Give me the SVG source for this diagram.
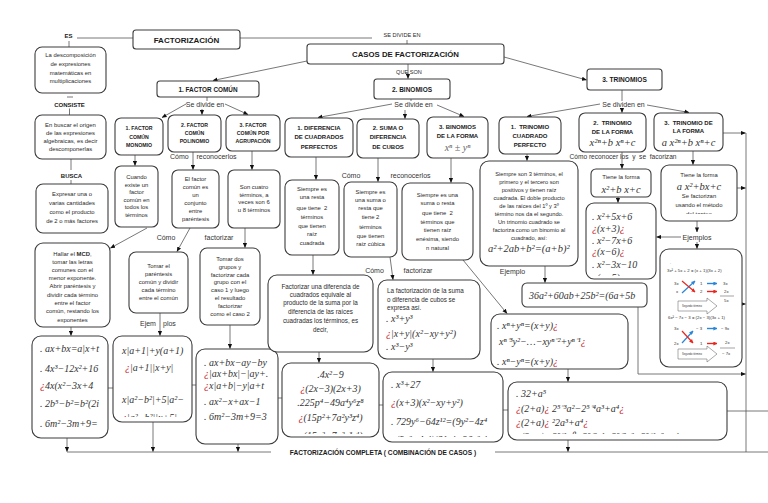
<svg xmlns="http://www.w3.org/2000/svg" width="768" height="503" viewBox="0 0 768 503">
<defs>
<marker id="ah" markerWidth="5" markerHeight="5" refX="4.6" refY="2.5" orient="auto" markerUnits="userSpaceOnUse"><path d="M0,0.4 L5,2.5 L0,4.6 z" fill="#111"/></marker>
<marker id="ab" markerWidth="4" markerHeight="4" refX="3.6" refY="2" orient="auto" markerUnits="userSpaceOnUse"><path d="M0,0 L4,2 L0,4 z" fill="#2a86d8"/></marker>
<marker id="ar" markerWidth="4" markerHeight="4" refX="3.6" refY="2" orient="auto" markerUnits="userSpaceOnUse"><path d="M0,0 L4,2 L0,4 z" fill="#e8261e"/></marker>
<clipPath id="cA"><rect x="33" y="337" width="72" height="100"/></clipPath>
<clipPath id="cB"><rect x="114" y="337" width="77" height="80"/></clipPath>
<clipPath id="cC"><rect x="197" y="350" width="79" height="93"/></clipPath>
<clipPath id="cD"><rect x="283" y="364" width="95" height="70"/></clipPath>
<clipPath id="cE"><rect x="384" y="373" width="118" height="64"/></clipPath>
<clipPath id="cF"><rect x="509" y="383" width="217" height="51"/></clipPath>
<clipPath id="cX"><rect x="492" y="315" width="135" height="53"/></clipPath>
<clipPath id="c36"><rect x="523" y="284" width="123" height="22"/></clipPath>
<clipPath id="cT2"><rect x="662" y="166" width="74" height="48"/></clipPath>
<clipPath id="cEX"><rect x="587" y="204" width="68" height="72"/></clipPath>
<clipPath id="cTC"><rect x="481" y="162" width="96" height="96"/></clipPath>
</defs>
<style>
.bx{fill:#fff;stroke:#3c3c3c;stroke-width:1.1}
.t{font-family:"Liberation Sans",Arial,sans-serif;font-size:5.9px;fill:#2a2a2a;text-anchor:middle}
.t2{font-family:"Liberation Sans",Arial,sans-serif;font-size:6.3px;fill:#2a2a2a;text-anchor:middle}
.b{font-weight:bold}
.hd{font-family:"Liberation Sans",Arial,sans-serif;font-weight:bold;fill:#1a1a1a;text-anchor:middle}
.lb{font-family:"Liberation Sans",Arial,sans-serif;font-size:7px;fill:#333;text-anchor:middle}
.m{font-family:"Liberation Serif","Times New Roman",serif;font-style:italic;font-size:10px;fill:#333}
.r{fill:#c8141c}
.g{font-family:"Liberation Sans",Arial,sans-serif;font-size:4.3px;fill:#333}
.c{fill:none;stroke:#555;stroke-width:0.8}
.ca{fill:none;stroke:#555;stroke-width:0.8;marker-end:url(#ah)}
.l{text-anchor:start}
</style>
<rect width="768" height="503" fill="#fff"/>

<g id="connectors">
<path class="c" d="M77,38 H133"/>
<path class="c" d="M69,41 V47"/>
<path class="c" d="M240,38 H372"/>
<path class="c" d="M407,40 V44"/>
<path class="ca" d="M307,61 L213,80.5"/>
<path class="ca" d="M408,64 V78.5"/>
<path class="ca" d="M504,57 L586.5,80"/>
<path class="c" d="M207,97 V101"/>
<path class="ca" d="M186,104 L162,117.5"/>
<path class="ca" d="M202,109 V114.5"/>
<path class="ca" d="M225,104 L248,114.5"/>
<path class="c" d="M67,97 H73"/>
<path class="c" d="M69.5,108.5 V115"/>
<path class="c" d="M71,159 V170"/>
<path class="c" d="M71,180 V184"/>
<path class="ca" d="M135,155 V165.5"/>
<path class="ca" d="M193,152 V169.5"/>
<path class="ca" d="M252,151 V169.5"/>
<path class="ca" d="M147,228 L110.5,248"/>
<path class="ca" d="M190,228 L177,251.5"/>
<path class="ca" d="M245,228 V247.5"/>
<path class="ca" d="M71,327 V335.5"/>
<path class="ca" d="M160,313 V335.5"/>
<path class="ca" d="M230,325 V348.5"/>
<path class="c" d="M108,388 H113"/>
<path class="c" d="M192,385 H196"/>
<path class="c" d="M278,398 H282"/>
<path class="c" d="M379,405 H383"/>
<path class="c" d="M503,410 H508"/>
<path class="ca" d="M67,438 V451.5"/>
<path class="ca" d="M153,422 V451.5"/>
<path class="ca" d="M238,444 V451.5"/>
<path class="c" d="M67,452 H271"/>
<path class="c" d="M495,452 H768"/>
<path class="ca" d="M568,440 V451.5"/>
<path class="c" d="M727,411 H768"/>
<path class="c" d="M746,133 V452"/>
<path class="ca" d="M723,133 H745.5"/>
<path class="ca" d="M737,188 H745.5"/>
<path class="ca" d="M742,304 H745.5"/>
<path class="ca" d="M638,307 V374 H745.5"/>
<path class="c" d="M411,99 V101"/>
<path class="ca" d="M392,104 L318,117.5"/>
<path class="ca" d="M405,110 V118.5"/>
<path class="ca" d="M437,105 L464,116.5"/>
<path class="ca" d="M316,157 V179.5"/>
<path class="ca" d="M378,158 V181.5"/>
<path class="ca" d="M451,158 V182.5"/>
<path class="ca" d="M313,255 V274.5"/>
<path class="ca" d="M390,257 L393,279.5"/>
<path class="ca" d="M463,260 L507,313.5"/>
<path class="ca" d="M319,352 V362.5"/>
<path class="ca" d="M433,359 V371.5"/>
<path class="ca" d="M568,369 V381.5"/>
<path class="c" d="M622,90 V101"/>
<path class="ca" d="M600,104 L527,116.5"/>
<path class="ca" d="M622,108 V112.5"/>
<path class="ca" d="M647,105 L689,112.5"/>
<path class="ca" d="M622,152 V168.5"/>
<path class="ca" d="M527,154 V160.5"/>
<path class="ca" d="M693,151 V164.5"/>
<path class="ca" d="M545,266 V282.5"/>
<path class="ca" d="M618,197 V202.5"/>
<path class="ca" d="M697,221 V232"/>
<path class="ca" d="M681,237 H656.5"/>
<path class="ca" d="M697,242 V248.5"/>
</g>

<g id="labels">
<text class="hd" style="font-size:6px" x="68.5" y="38">ES</text>
<text class="t" style="font-size:5.6px" x="402" y="37">SE DIVIDE EN</text>
<text class="t" style="font-size:5.6px" x="409" y="73.5">QUE SON</text>
<text class="lb" x="205" y="106.5">Se divide en</text>
<text class="hd" style="font-size:6px" x="69.5" y="106.5">CONSISTE</text>
<text class="hd" style="font-size:6px" x="71.5" y="177.5">BUSCA</text>
<text class="lb l" x="170" y="158.5">Cómo</text>
<text class="lb l" x="196.5" y="158.5">reconocerlos</text>
<text class="lb" x="166" y="239.5">Cómo</text>
<text class="lb" x="219" y="239.5">factorizar</text>
<text class="lb l" x="140" y="325.5">Ejem</text>
<text class="lb l" x="163" y="325.5">plos</text>
<text class="lb" x="413.5" y="106.5">Se divide en</text>
<text class="lb" x="351" y="177.5">Cómo</text>
<text class="lb" x="410.5" y="177.5">reconocerlos</text>
<text class="lb" x="374.5" y="272.5">Cómo</text>
<text class="lb" x="418" y="272.5">factorizar</text>
<text class="lb" x="623.5" y="106.5">Se dividen en</text>
<text class="lb" style="font-size:6.6px" x="623" y="158.5" xml:space="preserve">Cómo reconocer los  y  se  facorizan</text>
<text class="lb" x="512.5" y="273.5">Ejemplo</text>
<text class="lb" x="697" y="239.5">Ejemplos</text>
<text class="hd" style="font-size:6.6px;font-weight:600" x="383" y="455">FACTORIZACIÓN COMPLETA ( COMBINACIÓN DE CASOS )</text>
</g>

<g id="n-factorizacion">
<rect class="bx" x="133" y="30" width="107" height="19" rx="3"/>
<text class="hd" style="font-size:8px" x="186.5" y="42.5">FACTORIZACIÓN</text>
</g>
<g id="n-casos">
<rect class="bx" x="307" y="44" width="197" height="20" rx="3"/>
<text class="hd" style="font-size:7.8px" x="405.5" y="57">CASOS DE FACTORIZACIÓN</text>
</g>
<g id="n-factor-comun">
<rect class="bx" x="157" y="81" width="102" height="16" rx="3"/>
<text class="hd" style="font-size:6.4px" x="208" y="91.5">1. FACTOR COMÚN</text>
</g>
<g id="n-binomios">
<rect class="bx" x="374" y="79" width="76" height="20" rx="3"/>
<text class="hd" style="font-size:6.5px" x="412" y="91.5">2. BINOMIOS</text>
</g>
<g id="n-trinomios">
<rect class="bx" x="587" y="69" width="75" height="21" rx="3"/>
<text class="hd" style="font-size:6.6px" x="624.5" y="82">3. TRINOMIOS</text>
</g>

<g id="n-descomposicion">
<rect class="bx" x="35" y="47" width="71" height="46" rx="7"/>
<text class="t" x="70.5" y="57">La descomposición</text>
<text class="t" x="70.5" y="66">de expresiones</text>
<text class="t" x="70.5" y="75">matemáticas en</text>
<text class="t" x="70.5" y="83">multiplicaciones</text>
</g>
<g id="n-buscar-origen">
<rect class="bx" x="35" y="115" width="71" height="44" rx="7"/>
<text class="t" x="70.5" y="127">En buscar el origen</text>
<text class="t" x="70.5" y="135">de las expresiones</text>
<text class="t" x="70.5" y="142.5">algebraicas, es decir</text>
<text class="t" x="70.5" y="151">descomponerlas</text>
</g>
<g id="n-expresar">
<rect class="bx" x="36" y="184" width="72" height="49" rx="7"/>
<text class="t" x="72" y="196">Expresar una o</text>
<text class="t" x="72" y="205">varias cantidades</text>
<text class="t" x="72" y="214">como el producto</text>
<text class="t" x="72" y="223">de 2 o más factores</text>
</g>
<g id="n-hallar">
<rect class="bx" x="35" y="243" width="75" height="84" rx="8"/>
<text class="t" x="72.5" y="256">Hallar el <tspan class="b">MCD</tspan>,</text>
<text class="t" x="72.5" y="263.5">tomar las letras</text>
<text class="t" x="72.5" y="271.5">comunes con el</text>
<text class="t" x="72.5" y="280">menor exponente.</text>
<text class="t" x="72.5" y="288">Abrir paréntesis y</text>
<text class="t" x="72.5" y="296.5">dividir cada término</text>
<text class="t" x="72.5" y="305">entre el factor</text>
<text class="t" x="72.5" y="313">común, restando los</text>
<text class="t" x="72.5" y="321.5">exponentes</text>
</g>

<g id="n-monomio">
<rect class="bx" x="115" y="118" width="48" height="37" rx="6"/>
<text class="hd" style="font-size:5.2px" x="139" y="130">1. FACTOR</text>
<text class="hd" style="font-size:5.2px" x="139" y="138.5">COMÚN</text>
<text class="hd" style="font-size:5.2px" x="139" y="147">MONOMIO</text>
</g>
<g id="n-polinomio">
<rect class="bx" x="168" y="115" width="53" height="37" rx="6"/>
<text class="hd" style="font-size:5.2px" x="194.5" y="126.5">2. FACTOR</text>
<text class="hd" style="font-size:5.2px" x="194.5" y="134.5">COMÚN</text>
<text class="hd" style="font-size:5.2px" x="194.5" y="142.5">POLINOMIO</text>
</g>
<g id="n-agrupacion">
<rect class="bx" x="226" y="115" width="54" height="36" rx="6"/>
<text class="hd" style="font-size:5.2px" x="253" y="126.5">3. FACTOR</text>
<text class="hd" style="font-size:5.2px" x="253" y="134.5">COMÚN POR</text>
<text class="hd" style="font-size:5.2px" x="253" y="142.5">AGRUPACIÓN</text>
</g>
<g id="n-cuando">
<rect class="bx" x="115" y="166" width="43" height="61" rx="6"/>
<text class="t" x="136.5" y="179">Cuando</text>
<text class="t" x="136.5" y="186.5">existe un</text>
<text class="t" x="136.5" y="194">factor</text>
<text class="t" x="136.5" y="201.5">común en</text>
<text class="t" x="136.5" y="209">todos los</text>
<text class="t" x="136.5" y="216.5">términos</text>
</g>
<g id="n-el-factor">
<rect class="bx" x="172" y="170" width="47" height="58" rx="6"/>
<text class="t" x="195.5" y="181">El factor</text>
<text class="t" x="195.5" y="189">común es</text>
<text class="t" x="195.5" y="197">un</text>
<text class="t" x="195.5" y="205">conjunto</text>
<text class="t" x="195.5" y="213">entre</text>
<text class="t" x="195.5" y="220.5">paréntesis</text>
</g>
<g id="n-son-cuatro">
<rect class="bx" x="228" y="170" width="52" height="58" rx="6"/>
<text class="t" x="254" y="189">Son cuatro</text>
<text class="t" x="254" y="196.5">términos, a</text>
<text class="t" x="254" y="204">veces son 6</text>
<text class="t" x="254" y="212">u 8 términos</text>
</g>
<g id="n-tomar-parentesis">
<rect class="bx" x="129" y="252" width="59" height="61" rx="7"/>
<text class="t" x="158.5" y="268">Tomar el</text>
<text class="t" x="158.5" y="276">paréntesis</text>
<text class="t" x="158.5" y="284">común y dividir</text>
<text class="t" x="158.5" y="292">cada término</text>
<text class="t" x="158.5" y="300">entre el común</text>
</g>
<g id="n-tomar-dos">
<rect class="bx" x="200" y="248" width="60" height="77" rx="7"/>
<text class="t" x="230" y="261">Tomar dos</text>
<text class="t" x="230" y="269">grupos y</text>
<text class="t" x="230" y="276.5">factorizar cada</text>
<text class="t" x="230" y="284">grupo con el</text>
<text class="t" x="230" y="292">caso 1 y luego</text>
<text class="t" x="230" y="300">el resultado</text>
<text class="t" x="230" y="308">factorizar</text>
<text class="t" x="230" y="316">como el caso 2</text>
</g>

<g id="n-ejemplos-monomio">
<rect class="bx" x="32" y="336" width="76" height="102" rx="9"/>
<g clip-path="url(#cA)">
<text class="m" x="40" y="351.5">. ax+bx=a|x+t</text>
<text class="m" x="40" y="371.5">. 4x³−12x²+16</text>
<text class="m" x="40" y="388.5"><tspan class="r">¿</tspan>4x(x²−3x+4</text>
<text class="m" x="40" y="406.5">. 2b⁵−b²=b²(2i</text>
<text class="m" x="40" y="426.5">. 6m²−3m+9=</text>
</g>
</g>
<g id="n-ejemplos-polinomio">
<rect class="bx" x="113" y="336" width="79" height="86" rx="9"/>
<g clip-path="url(#cB)">
<text class="m" x="122" y="353.5">x|a+1|+y(a+1)</text>
<text class="m" x="125" y="370.5"><tspan class="r">¿</tspan>|a+1||x+y|</text>
<text class="m" x="122" y="402.5">x|a²−b²|+5|a²−</text>
<text class="m" x="122" y="421"><tspan class="r">¿</tspan>|a²−b²||x+5|</text>
</g>
</g>
<g id="n-ejemplos-agrupacion">
<rect class="bx" x="196" y="349" width="82" height="95" rx="9"/>
<g clip-path="url(#cC)">
<text class="m" x="204" y="365.5">. ax+bx−ay−by</text>
<text class="m" x="204" y="377"><tspan class="r">¿</tspan>|ax+bx|−|ay+.</text>
<text class="m" x="204" y="389"><tspan class="r">¿</tspan>x|a+b|−y|a+t</text>
<text class="m" x="204" y="404.5">. ax²−x+ax−1</text>
<text class="m" x="204" y="420">. 6m²−3m+9=3</text>
</g>
</g>

<g id="n-dif-cuadrados">
<rect class="bx" x="285" y="118" width="68" height="39" rx="6"/>
<text class="hd" style="font-size:6px" x="319" y="130">1. DIFERENCIA</text>
<text class="hd" style="font-size:6px" x="319" y="139">DE CUADRADOS</text>
<text class="hd" style="font-size:6px" x="319" y="149">PERFECTOS</text>
</g>
<g id="n-suma-cubos">
<rect class="bx" x="357" y="119" width="62" height="39" rx="6"/>
<text class="hd" style="font-size:6px" x="388" y="130">2. SUMA O</text>
<text class="hd" style="font-size:6px" x="388" y="139">DIFERENCIA</text>
<text class="hd" style="font-size:6px" x="388" y="149">DE CUBOS</text>
</g>
<g id="n-binomios-forma">
<rect class="bx" x="427" y="117" width="61" height="41" rx="6"/>
<text class="hd" style="font-size:6px" x="457.5" y="129">3. BINOMIOS</text>
<text class="hd" style="font-size:6px" x="457.5" y="138">DE LA FORMA</text>
<text class="m" style="text-anchor:middle;fill:#666" x="457.5" y="151">xⁿ ± yⁿ</text>
</g>
<g id="n-resta">
<rect class="bx" x="285" y="180" width="54" height="75" rx="7"/>
<text class="t" x="312" y="191">Siempre es</text>
<text class="t" x="312" y="199">una resta</text>
<text class="t" x="312" y="210" xml:space="preserve">que tiene  2</text>
<text class="t" x="312" y="219">términos</text>
<text class="t" x="312" y="228">que tienen</text>
<text class="t" x="312" y="236">raíz</text>
<text class="t" x="312" y="245">cuadrada</text>
</g>
<g id="n-cubica">
<rect class="bx" x="344" y="182" width="53" height="75" rx="7"/>
<text class="t" x="370.5" y="194">Siempre es</text>
<text class="t" x="370.5" y="202">una suma o</text>
<text class="t" x="370.5" y="210">resta que</text>
<text class="t" x="370.5" y="219">tiene 2</text>
<text class="t" x="370.5" y="229">términos</text>
<text class="t" x="370.5" y="238">que tienen</text>
<text class="t" x="370.5" y="246">raíz cúbica</text>
</g>
<g id="n-enesima">
<rect class="bx" x="402" y="183" width="71" height="77" rx="8"/>
<text class="t" x="437.5" y="197">Siempre es una</text>
<text class="t" x="437.5" y="205">suma o resta</text>
<text class="t" x="437.5" y="215" xml:space="preserve">que tiene  2</text>
<text class="t" x="437.5" y="224">términos que</text>
<text class="t" x="437.5" y="232">tienen raíz</text>
<text class="t" x="437.5" y="241">enésima, siendo</text>
<text class="t" x="437.5" y="250">n natural</text>
</g>
<g id="n-dif-cuad-factorizar">
<rect class="bx" x="268" y="275" width="105" height="77" rx="9"/>
<text class="t2" x="320.5" y="289">Factorizar una diferencia de</text>
<text class="t2" x="320.5" y="297">cuadrados equivale al</text>
<text class="t2" x="320.5" y="305">producto de la suma por la</text>
<text class="t2" x="320.5" y="314">diferencia de las raíces</text>
<text class="t2" x="320.5" y="323">cuadradas los términos, es</text>
<text class="t2" x="320.5" y="332">decir,</text>
</g>
<g id="n-cubos-factorizar">
<rect class="bx" x="378" y="280" width="102" height="79" rx="9"/>
<text class="t2 l" x="387" y="293">La factorización de la suma</text>
<text class="t2 l" x="387" y="301.5">o diferencia de cubos se</text>
<text class="t2 l" x="387" y="310">expresa así.</text>
<text class="m" x="386" y="322">. x³+y³</text>
<text class="m" x="386" y="337"><tspan class="r">¿</tspan>|x+y|(x²−xy+y²)</text>
<text class="m" x="386" y="350">. x³−y³</text>
</g>
<g id="n-ejemplos-dif-cuad">
<rect class="bx" x="282" y="363" width="97" height="74" rx="9"/>
<g clip-path="url(#cD)">
<text class="m" style="text-anchor:middle" x="330.5" y="378">.4x²−9</text>
<text class="m" style="text-anchor:middle" x="330.5" y="391.5"><tspan class="r">¿</tspan>(2x−3)(2x+3)</text>
<text class="m" style="text-anchor:middle" x="330.5" y="406">.225p⁴−49a⁴y⁶z⁸</text>
<text class="m" style="text-anchor:middle" x="330.5" y="421"><tspan class="r">¿</tspan>(15p²+7a²y³z⁴)</text>
<text class="m" style="text-anchor:middle" x="330.5" y="439"><tspan class="r">¿</tspan>(15p²−7a²y³z⁴)</text>
</g>
</g>
<g id="n-ejemplos-cubos">
<rect class="bx" x="383" y="372" width="120" height="70" rx="9"/>
<g clip-path="url(#cE)">
<text class="m" x="391" y="387.5">. x³+27</text>
<text class="m" x="391" y="405.5"><tspan class="r">¿</tspan>(x+3)(x²−xy+y²)</text>
<text class="m" x="391" y="424.5">. 729y⁶−64z¹²=(9y²−4z⁴</text>
<text class="m" x="391" y="443"><tspan class="r">¿</tspan>(9y²−4z⁴)(81y⁴+36y²z⁴</text>
</g>
</g>
<g id="n-binomio-n">
<rect class="bx" x="491" y="314" width="137" height="55" rx="9"/>
<g clip-path="url(#cX)">
<text class="m" x="497" y="329">. xⁿ+yⁿ=(x+y)<tspan class="r">¿</tspan></text>
<text class="m" x="499" y="344.5">xⁿ⁻³y²−…−xyⁿ⁻²+yⁿ⁻¹<tspan class="r">¿</tspan></text>
<text class="m" x="497" y="364.5">. xⁿ−yⁿ=(x+y)<tspan class="r">¿</tspan></text>
</g>
</g>
<g id="n-ejemplos-n">
<rect class="bx" x="508" y="382" width="219" height="58" rx="9"/>
<g clip-path="url(#cF)">
<text class="m" x="516" y="396.5">. 32+a⁵</text>
<text class="m" x="516" y="411.5"><tspan class="r">¿</tspan>(2+a)<tspan class="r">¿</tspan> 2⁵⁻³a²−2⁵⁻⁴a³+a⁴<tspan class="r">¿</tspan></text>
<text class="m" x="516" y="425.5"><tspan class="r">¿</tspan>(2+a)<tspan class="r">¿</tspan> ²2a³+a⁴<tspan class="r">¿</tspan></text>
<text class="m" x="516" y="440"><tspan class="r">¿</tspan>(2+a)<tspan class="r">¿</tspan> 2⁵⁻¹a⁰−2⁵⁻²a¹+2⁵⁻³a²−2⁵⁻⁴a³+a⁴</text>
</g>
</g>

<g id="n-tcp">
<rect class="bx" x="499" y="117" width="62" height="37" rx="6"/>
<text class="hd" style="font-size:6px" x="530" y="129" xml:space="preserve">1.  TRINOMIO</text>
<text class="hd" style="font-size:6px" x="530" y="138">CUADRADO</text>
<text class="hd" style="font-size:6px" x="530" y="146.5">PERFECTO</text>
</g>
<g id="n-trinomio-2">
<rect class="bx" x="579" y="113" width="67" height="39" rx="6"/>
<text class="hd" style="font-size:6px" x="612.5" y="125" xml:space="preserve">2.  TRINOMIO</text>
<text class="hd" style="font-size:6px" x="612.5" y="133.5">DE LA FORMA</text>
<text class="m" style="text-anchor:middle;font-size:10.5px" x="612.5" y="146">x²ⁿ+b xⁿ+c</text>
</g>
<g id="n-trinomio-3">
<rect class="bx" x="654" y="113" width="69" height="38" rx="6"/>
<text class="hd" style="font-size:6px" x="688.5" y="124.5" xml:space="preserve">3.  TRINOMIO DE</text>
<text class="hd" style="font-size:6px" x="688.5" y="133">LA FORMA</text>
<text class="m" style="text-anchor:middle;font-size:10.5px" x="688.5" y="146">a x²ⁿ+b xⁿ+c</text>
</g>
<g id="n-tcp-desc">
<rect class="bx" x="480" y="161" width="98" height="105" rx="9"/>
<g clip-path="url(#cTC)">
<text class="t" style="font-size:5.7px" x="529" y="176">Siempre son 3 términos, el</text>
<text class="t" style="font-size:5.7px" x="529" y="184">primero y el tercero son</text>
<text class="t" style="font-size:5.7px" x="529" y="192">positivos y tienen raíz</text>
<text class="t" style="font-size:5.7px" x="529" y="200">cuadrada. El doble producto</text>
<text class="t" style="font-size:5.7px" x="529" y="208">de las raíces del 1º y 3º</text>
<text class="t" style="font-size:5.7px" x="529" y="215.5">término nos da el segundo.</text>
<text class="t" style="font-size:5.7px" x="529" y="224">Un trinomio cuadrado se</text>
<text class="t" style="font-size:5.7px" x="529" y="232">factoriza como un binomio al</text>
<text class="t" style="font-size:5.7px" x="529" y="239.5">cuadrado, así:</text>
<text class="m" style="font-size:10.5px" x="488" y="252">a²+2ab+b²=(a+b)²</text>
</g>
</g>
<g id="n-ejemplo-tcp">
<rect class="bx" x="522" y="283" width="125" height="24" rx="5"/>
<g clip-path="url(#c36)">
<text class="m" x="529" y="298.5">36a²+60ab+25b²=(6a+5b</text>
</g>
</g>
<g id="n-tiene-forma-1">
<rect class="bx" x="591" y="169" width="60" height="28" rx="5"/>
<text class="t" x="621" y="179">Tiene la forma</text>
<text class="m" style="text-anchor:middle;font-size:10.5px" x="621" y="192.5">x²+b x+c</text>
</g>
<g id="n-ejemplos-forma-1">
<rect class="bx" x="586" y="203" width="70" height="76" rx="8"/>
<g clip-path="url(#cEX)">
<text class="m" x="592" y="220">. x²+5x+6</text>
<text class="m" x="592" y="231.5"><tspan class="r">¿</tspan>(x+3)<tspan class="r">¿</tspan></text>
<text class="m" x="592" y="243.5">. x²−7x+6</text>
<text class="m" x="592" y="255"><tspan class="r">¿</tspan>(x−6)<tspan class="r">¿</tspan></text>
<text class="m" x="592" y="268">. x²−3x−10</text>
<text class="m" x="592" y="281"><tspan class="r">¿</tspan>(x−5)<tspan class="r">¿</tspan></text>
</g>
</g>
<g id="n-tiene-forma-2">
<rect class="bx" x="661" y="165" width="76" height="56" rx="8"/>
<text class="t" x="699" y="177">Tiene la forma</text>
<text class="m" style="text-anchor:middle;font-size:10.5px" x="699" y="189.5">a x²+bx+c</text>
<text class="t" x="699" y="198">Se factorizan</text>
<text class="t" x="699" y="207">usando el método</text>
<g clip-path="url(#cT2)"><text class="t" x="699" y="216">del tanteo</text></g>
</g>
<g id="n-ejemplos-tanteo">
<rect class="bx" x="660" y="249" width="82" height="118" rx="9"/>
<text class="g" x="670" y="264">.</text>
<text class="g" x="667" y="272">3x² + 5x + 2 = (x + 1)(3x + 2)</text>
<text class="g" x="674" y="285">3x</text>
<text class="g" x="700" y="285">1</text>
<path d="M707,283.5 H717" stroke="#2a86d8" stroke-width="1.4" marker-end="url(#ab)"/>
<text class="g" x="723" y="285">3x</text>
<text class="g" x="676" y="293">x</text>
<text class="g" x="700" y="293">2</text>
<path d="M707,291.5 H717" stroke="#e8261e" stroke-width="1.4" marker-end="url(#ar)"/>
<text class="g" x="724" y="293">2x</text>
<path d="M720,296 H734" stroke="#444" stroke-width="0.5"/>
<text class="g" x="724" y="302">5x</text>
<path d="M682,293 L695,281" stroke="#2a86d8" stroke-width="1.2" marker-end="url(#ab)"/>
<path d="M682,281 L695,292" stroke="#e8261e" stroke-width="1.2" marker-end="url(#ar)"/>
<path d="M678,301 H707 V298 L717,306 L707,314 V311 H678 Z" fill="#fff" stroke="#555" stroke-width="0.5"/>
<text class="g" style="font-size:2.6px;text-anchor:middle" x="692" y="307">Segundo término</text>
<text class="g" x="668" y="319">6x² − 7x − 3 = (2x − 3)(3x + 1)</text>
<text class="g" x="674" y="330">3x</text>
<text class="g" x="696" y="330">− 3</text>
<path d="M707,328.5 H717" stroke="#2a86d8" stroke-width="1.4" marker-end="url(#ab)"/>
<text class="g" x="721" y="330">− 9x</text>
<text class="g" x="674" y="345">2x</text>
<text class="g" x="700" y="345">1</text>
<path d="M707,343.5 H717" stroke="#e8261e" stroke-width="1.4" marker-end="url(#ar)"/>
<text class="g" x="725" y="344">2x</text>
<path d="M720,348 H735" stroke="#444" stroke-width="0.5"/>
<text class="g" x="722" y="355">− 7x</text>
<path d="M682,343 L693,331" stroke="#2a86d8" stroke-width="1.2" marker-end="url(#ab)"/>
<path d="M682,331 L693,343" stroke="#e8261e" stroke-width="1.2" marker-end="url(#ar)"/>
<path d="M678,349 H707 V346 L717,354 L707,362 V359 H678 Z" fill="#fff" stroke="#555" stroke-width="0.5"/>
<text class="g" style="font-size:2.6px;text-anchor:middle" x="692" y="355">Segundo término</text>
</g>
</svg>
